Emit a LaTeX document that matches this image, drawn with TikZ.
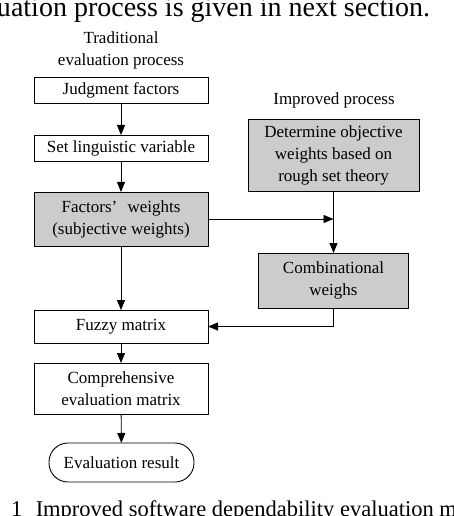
\documentclass[tikz,border=0pt]{standalone}
\usepackage{fontspec}
\setmainfont{Liberation Serif}
\usetikzlibrary{arrows.meta}
\begin{document}
\begin{tikzpicture}[x=1bp,y=-1bp,
  every node/.style={inner sep=0pt,outer sep=0pt,align=center,font=\fontsize{17bp}{22bp}\selectfont},
  box/.style={draw,line width=0.9bp,minimum width=174bp},
  graybox/.style={box,fill=black!20},
  conn/.style={line width=0.9bp,-{Triangle[width=8bp,length=10bp]}}]
\useasboundingbox (0,0) rectangle (454,516);
\clip (0,0) rectangle (454,516);
% surrounding text of the page
\node[anchor=base west,font=\fontsize{28bp}{32bp}\selectfont] (toptext) at (-3,17) {uation process is given in next section.};
\node[anchor=base west,font=\fontsize{22.5bp}{26bp}\selectfont] (caption) at (11,516.5) {1\hspace{13.5bp}Improved software dependability evaluation m};
% labels
\node (trad) at (121,50) {Traditional\\evaluation process};
\node (impr) at (334,100) {Improved process};
% left column
\node[box,minimum height=26bp] (judg) at (121,90) {Judgment factors};
\node[box,minimum height=26bp] (setl) at (121,148) {Set linguistic variable};
\node[graybox,minimum height=54bp] (fact) at (121,219) {Factors’\hspace{0.6em}weights\\(subjective weights)};
\node[box,minimum height=33bp] (fuzzy) at (121,326.5) {Fuzzy matrix};
\node[box,minimum height=51bp] (comp) at (121,388.5) {Comprehensive\\evaluation matrix};
\node[draw,line width=0.9bp,minimum width=145bp,minimum height=39bp,rounded corners=19bp] (res) at (121.5,462.5) {Evaluation result};
% right column
\node[graybox,minimum width=171bp,minimum height=72bp] (det) at (333.5,155) {Determine objective\\weights based on\\rough set theory};
\node[graybox,minimum width=150bp,minimum height=55bp] (comb) at (333.5,280.5) {Combinational\\weighs};
\coordinate (join) at (det.south |- fact.east);
% connectors
\draw[conn] (judg) -- (setl);
\draw[conn] (setl) -- (fact);
\draw[conn] (fact) -- (fuzzy);
\draw[conn] (fuzzy) -- (comp);
\draw[conn] (comp) -- (res);
\draw[conn] (det) -- (comb);
\draw[conn] (fact.east) -- (join);
\draw[conn] (comb.south) |- (fuzzy.east);
\end{tikzpicture}
\end{document}
